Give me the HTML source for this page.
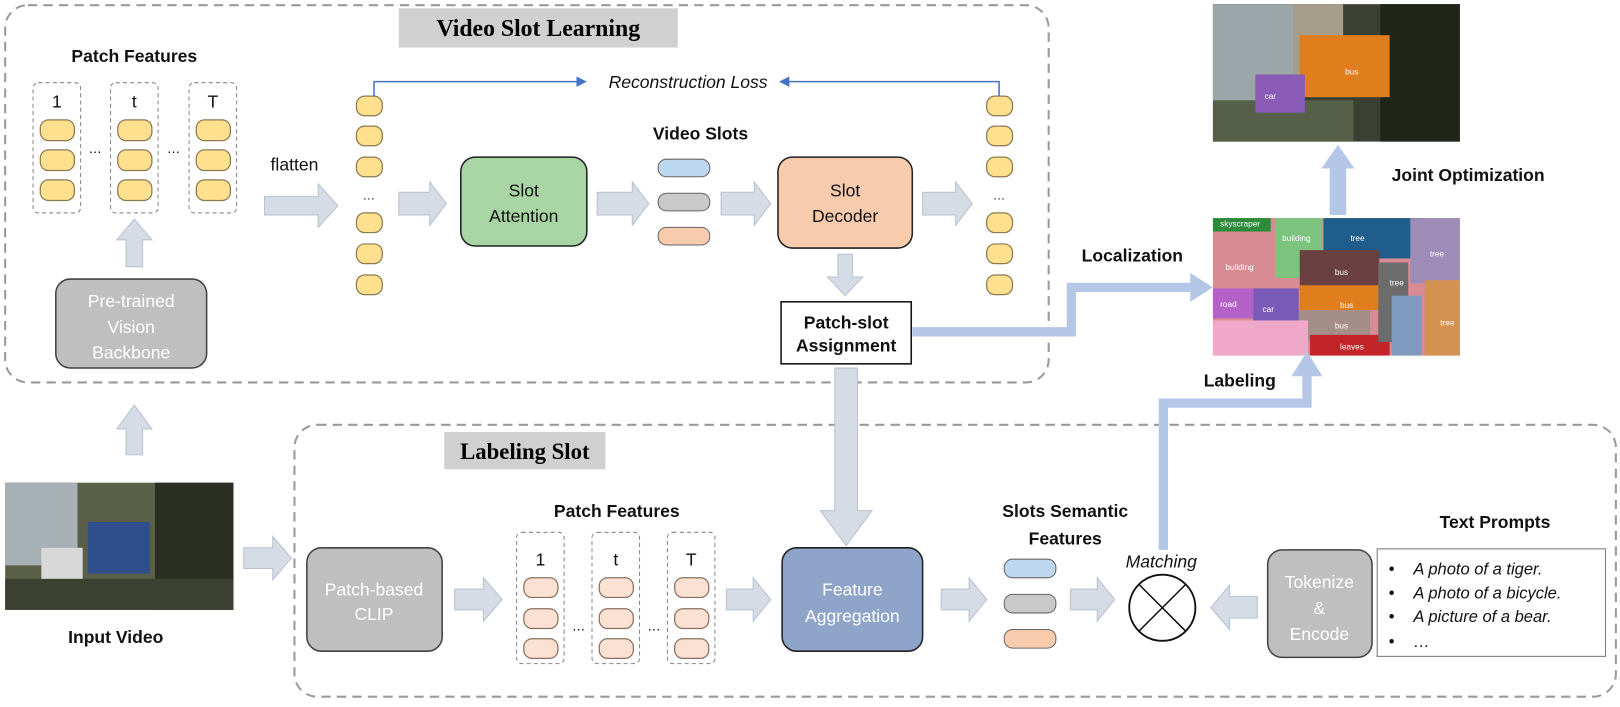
<!DOCTYPE html>
<html><head><meta charset="utf-8"><style>
body{margin:0;background:#fff}
svg{display:block;font-family:"Liberation Sans",sans-serif}
.ga{fill:#d6dce5;stroke:#b7c2d2;stroke-width:1}
.y{fill:#ffe08f;stroke:#8a7a50;stroke-width:1.2}
.p{fill:#fbe1d2;stroke:#8a7060;stroke-width:1.2}
.col{fill:none;stroke:#888;stroke-dasharray:4 3;stroke-width:1}
.t{font-size:17px;fill:#111}
.b{font-weight:bold}
.w{fill:#fff}
</style></head><body>
<svg width="1620" height="707" viewBox="0 0 1568 684" preserveAspectRatio="none">
<rect x="5" y="5" width="1010" height="365" rx="22" fill="none" stroke="#9a9a9a" stroke-width="2" stroke-dasharray="9 6"/>
<rect x="285" y="411" width="1279" height="263" rx="22" fill="none" stroke="#9a9a9a" stroke-width="2" stroke-dasharray="9 6"/>
<rect x="386" y="8" width="270" height="38" fill="#d0d0d0"/>
<text x="521" y="35" text-anchor="middle" font-family="Liberation Serif,serif" font-weight="bold" font-size="23">Video Slot Learning</text>
<rect x="430" y="418" width="156" height="36" fill="#d0d0d0"/>
<text x="508" y="444" text-anchor="middle" font-family="Liberation Serif,serif" font-weight="bold" font-size="22">Labeling Slot</text>

<text x="130" y="60" text-anchor="middle" class="t b" font-size="16">Patch Features</text>
<g>
<rect class="col" x="32" y="80" width="46" height="126" rx="5"/>
<rect class="col" x="107" y="80" width="46" height="126" rx="5"/>
<rect class="col" x="183" y="80" width="46" height="126" rx="5"/>
<text x="55" y="104" text-anchor="middle" class="t">1</text>
<text x="130" y="104" text-anchor="middle" class="t">t</text>
<text x="206" y="104" text-anchor="middle" class="t">T</text>
<rect class="y" x="39" y="116" width="33" height="20" rx="8"/><rect class="y" x="39" y="145" width="33" height="20" rx="8"/><rect class="y" x="39" y="174" width="33" height="20" rx="8"/>
<rect class="y" x="114" y="116" width="33" height="20" rx="8"/><rect class="y" x="114" y="145" width="33" height="20" rx="8"/><rect class="y" x="114" y="174" width="33" height="20" rx="8"/>
<rect class="y" x="190" y="116" width="33" height="20" rx="8"/><rect class="y" x="190" y="145" width="33" height="20" rx="8"/><rect class="y" x="190" y="174" width="33" height="20" rx="8"/>
<text x="92" y="148" text-anchor="middle" font-size="13">…</text>
<text x="168" y="148" text-anchor="middle" font-size="13">…</text>
</g>
<polygon class="ga" points="122,258 122,232 113,232 130,212 147,232 138,232 138,258"/>
<rect x="54" y="270" width="146" height="86" rx="14" fill="#bfbfbf" stroke="#444" stroke-width="1.5"/>
<text x="127" y="297" text-anchor="middle" class="t w" font-size="18">Pre-trained</text>
<text x="127" y="322" text-anchor="middle" class="t w" font-size="18">Vision</text>
<text x="127" y="347" text-anchor="middle" class="t w" font-size="18">Backbone</text>
<polygon class="ga" points="122,440 122,415 113,415 130,392 147,415 138,415 138,440"/>

<text x="285" y="165" text-anchor="middle" class="t">flatten</text>
<polygon class="ga" points="256,190 308,190 308,178 327,199 308,220 308,208 256,208"/>

<g>
<rect class="y" x="345" y="93" width="25" height="19" rx="8"/><rect class="y" x="345" y="122" width="25" height="19" rx="8"/><rect class="y" x="345" y="152" width="25" height="19" rx="8"/>
<text x="357" y="193" text-anchor="middle" font-size="12">…</text>
<rect class="y" x="345" y="206" width="25" height="19" rx="8"/><rect class="y" x="345" y="236" width="25" height="19" rx="8"/><rect class="y" x="345" y="266" width="25" height="19" rx="8"/>
</g>
<g>
<rect class="y" x="955" y="93" width="25" height="19" rx="8"/><rect class="y" x="955" y="122" width="25" height="19" rx="8"/><rect class="y" x="955" y="152" width="25" height="19" rx="8"/>
<text x="967" y="193" text-anchor="middle" font-size="12">…</text>
<rect class="y" x="955" y="206" width="25" height="19" rx="8"/><rect class="y" x="955" y="236" width="25" height="19" rx="8"/><rect class="y" x="955" y="266" width="25" height="19" rx="8"/>
</g>
<polyline points="362,93 362,79 560,79" fill="none" stroke="#4472c4" stroke-width="1.5"/>
<polygon points="568,79 558,74 558,84" fill="#4472c4"/>
<polyline points="967,93 967,79 762,79" fill="none" stroke="#4472c4" stroke-width="1.5"/>
<polygon points="754,79 764,74 764,84" fill="#4472c4"/>
<text x="666" y="85" text-anchor="middle" class="t" font-style="italic" font-size="16">Reconstruction Loss</text>

<polygon class="ga" points="386,186 416,186 416,176 432,197 416,218 416,208 386,208"/>
<rect x="446" y="152" width="122" height="86" rx="14" fill="#a9d5a5" stroke="#222" stroke-width="1.5"/>
<text x="507" y="190" text-anchor="middle" class="t" font-size="18">Slot</text>
<text x="507" y="215" text-anchor="middle" class="t" font-size="18">Attention</text>
<polygon class="ga" points="578,186 612,186 612,176 628,197 612,218 612,208 578,208"/>
<text x="678" y="135" text-anchor="middle" class="t b" font-size="16">Video Slots</text>
<rect x="637" y="154" width="50" height="17" rx="8" fill="#bdd7ee" stroke="#666"/>
<rect x="637" y="187" width="50" height="17" rx="8" fill="#c9c9c9" stroke="#666"/>
<rect x="637" y="220" width="50" height="17" rx="8" fill="#f8cbad" stroke="#666"/>
<polygon class="ga" points="698,186 730,186 730,176 746,197 730,218 730,208 698,208"/>
<rect x="753" y="152" width="130" height="88" rx="14" fill="#f8cbad" stroke="#222" stroke-width="1.5"/>
<text x="818" y="190" text-anchor="middle" class="t" font-size="18">Slot</text>
<text x="818" y="215" text-anchor="middle" class="t" font-size="18">Decoder</text>
<polygon class="ga" points="893,186 925,186 925,176 941,197 925,218 925,208 893,208"/>
<polygon class="ga" points="811,246 825,246 825,268 835,268 818,286 801,268 811,268"/>
<rect x="756" y="292" width="126" height="60" fill="#fff" stroke="#111" stroke-width="1.5"/>
<text x="819" y="318" text-anchor="middle" class="t b" font-size="15">Patch-slot</text>
<text x="819" y="340" text-anchor="middle" class="t b" font-size="15">Assignment</text>

<polyline points="883,321 1037,321 1037,278 1156,278" fill="none" stroke="#b4c7e7" stroke-width="9"/>
<polygon points="1174,278 1152,264 1152,292" fill="#b4c7e7"/>
<text x="1096" y="253" text-anchor="middle" class="t b" font-size="20">Localization</text>
<polygon class="ga" points="808,356 830,356 830,494 844,494 819,528 794,494 808,494"/>

<g>
<rect x="1174" y="4" width="239" height="133" fill="#3a4032"/>
<rect x="1174" y="4" width="78" height="96" fill="#9aa6a8"/>
<rect x="1252" y="4" width="48" height="78" fill="#a69c8a"/>
<rect x="1336" y="4" width="77" height="133" fill="#1f2518"/>
<rect x="1174" y="97" width="136" height="40" fill="#566048"/>
<rect x="1258" y="34" width="87" height="60" fill="#e07d1c"/>
<rect x="1215" y="72" width="48" height="37" fill="#8a5cb8"/>
<text x="1302" y="72" font-size="8" fill="#fff">bus</text>
<text x="1224" y="96" font-size="8" fill="#fff">car</text>
</g>
<g>
<rect x="1174" y="211" width="239" height="133" fill="#d88b93"/>
<rect x="1174" y="211" width="56" height="13" fill="#2c8a3a"/>
<rect x="1234" y="211" width="46" height="58" fill="#7cc47e"/>
<rect x="1281" y="211" width="97" height="39" fill="#1f5d8c"/>
<rect x="1365" y="211" width="48" height="63" fill="#9d8cb8"/>
<rect x="1258" y="242" width="77" height="39" fill="#6a4040"/>
<rect x="1258" y="276" width="77" height="24" fill="#e07d1c"/>
<rect x="1256" y="300" width="70" height="29" fill="#a58e88"/>
<rect x="1268" y="324" width="77" height="20" fill="#c2242a"/>
<rect x="1334" y="254" width="29" height="77" fill="#6c6c6c"/>
<rect x="1347" y="286" width="29" height="58" fill="#7f9cc0"/>
<rect x="1379" y="271" width="34" height="73" fill="#d39252"/>
<rect x="1174" y="279" width="39" height="29" fill="#b462c8"/>
<rect x="1213" y="279" width="44" height="39" fill="#7a5ab8"/>
<rect x="1174" y="310" width="92" height="34" fill="#f0a8c8"/>
<g font-size="8" fill="#fff"><text x="1181" y="219">skyscraper</text><text x="1241" y="233">building</text><text x="1307" y="233">tree</text><text x="1384" y="248">tree</text><text x="1186" y="261">building</text><text x="1292" y="266">bus</text><text x="1297" y="298">bus</text><text x="1292" y="318">bus</text><text x="1345" y="276">tree</text><text x="1181" y="297">road</text><text x="1222" y="302">car</text><text x="1297" y="338">leaves</text><text x="1394" y="315">tree</text></g>
</g>
<polygon points="1287,208 1287,163 1279,163 1295,140 1311,163 1303,163 1303,208" fill="#b4c7e7"/>
<text x="1421" y="175" text-anchor="middle" class="t b" font-size="20">Joint Optimization</text>

<rect x="5" y="467" width="221" height="123" fill="#5a6048"/>
<rect x="5" y="467" width="70" height="80" fill="#a7b0b4"/>
<rect x="150" y="467" width="76" height="123" fill="#2a2f22"/>
<rect x="85" y="505" width="60" height="50" fill="#2f4f8a"/>
<rect x="40" y="530" width="40" height="35" fill="#d8d8d8"/>
<rect x="5" y="560" width="221" height="30" fill="#3c4030"/>
<text x="112" y="622" text-anchor="middle" class="t b" font-size="18">Input Video</text>
<polygon class="ga" points="236,530 264,530 264,519 282,540 264,561 264,550 236,550"/>

<rect x="297" y="530" width="131" height="100" rx="14" fill="#bfbfbf" stroke="#444" stroke-width="1.5"/>
<text x="362" y="576" text-anchor="middle" class="t w" font-size="17">Patch-based</text>
<text x="362" y="600" text-anchor="middle" class="t w" font-size="17">CLIP</text>
<polygon class="ga" points="440,570 468,570 468,559 486,580 468,601 468,590 440,590"/>

<text x="597" y="500" text-anchor="middle" class="t b" font-size="16">Patch Features</text>
<g>
<rect class="col" x="500" y="515" width="46" height="127" rx="5"/>
<rect class="col" x="573" y="515" width="46" height="127" rx="5"/>
<rect class="col" x="646" y="515" width="46" height="127" rx="5"/>
<text x="523" y="547" text-anchor="middle" class="t">1</text>
<text x="596" y="547" text-anchor="middle" class="t">t</text>
<text x="669" y="547" text-anchor="middle" class="t">T</text>
<rect class="p" x="507" y="559" width="33" height="19" rx="8"/><rect class="p" x="507" y="589" width="33" height="19" rx="8"/><rect class="p" x="507" y="618" width="33" height="19" rx="8"/>
<rect class="p" x="580" y="559" width="33" height="19" rx="8"/><rect class="p" x="580" y="589" width="33" height="19" rx="8"/><rect class="p" x="580" y="618" width="33" height="19" rx="8"/>
<rect class="p" x="653" y="559" width="33" height="19" rx="8"/><rect class="p" x="653" y="589" width="33" height="19" rx="8"/><rect class="p" x="653" y="618" width="33" height="19" rx="8"/>
<text x="560" y="610" text-anchor="middle" font-size="13">…</text>
<text x="633" y="610" text-anchor="middle" font-size="13">…</text>
</g>
<polygon class="ga" points="703,570 729,570 729,559 746,580 729,601 729,590 703,590"/>
<rect x="757" y="530" width="136" height="100" rx="14" fill="#8ea4c8" stroke="#222" stroke-width="1.5"/>
<text x="825" y="576" text-anchor="middle" class="t w" font-size="18">Feature</text>
<text x="825" y="602" text-anchor="middle" class="t w" font-size="18">Aggregation</text>
<polygon class="ga" points="911,570 938,570 938,559 955,580 938,601 938,590 911,590"/>
<text x="1031" y="500" text-anchor="middle" class="t b" font-size="16">Slots Semantic</text>
<text x="1031" y="527" text-anchor="middle" class="t b" font-size="16">Features</text>
<rect x="972" y="541" width="50" height="18" rx="8" fill="#bdd7ee" stroke="#666"/>
<rect x="972" y="575" width="50" height="18" rx="8" fill="#c9c9c9" stroke="#666"/>
<rect x="972" y="609" width="50" height="18" rx="8" fill="#f8cbad" stroke="#666"/>
<polygon class="ga" points="1036,570 1062,570 1062,559 1079,580 1062,601 1062,590 1036,590"/>
<circle cx="1125" cy="588" r="32" fill="#fff" stroke="#111" stroke-width="1.8"/>
<line x1="1102" y1="565" x2="1148" y2="611" stroke="#111" stroke-width="1.5"/>
<line x1="1148" y1="565" x2="1102" y2="611" stroke="#111" stroke-width="1.5"/>
<text x="1124" y="549" text-anchor="middle" class="t" font-style="italic" font-size="18">Matching</text>
<polyline points="1126,532 1126,390 1265,390 1265,362" fill="none" stroke="#b4c7e7" stroke-width="9"/>
<polygon points="1265,340 1250,364 1280,364" fill="#b4c7e7"/>
<text x="1200" y="374" text-anchor="middle" class="t b" font-size="19">Labeling</text>
<polygon class="ga" points="1217,577 1190,577 1190,566 1172,588 1190,609 1190,598 1217,598"/>
<rect x="1227" y="532" width="101" height="104" rx="14" fill="#bfbfbf" stroke="#444" stroke-width="1.5"/>
<text x="1277" y="569" text-anchor="middle" class="t w" font-size="18">Tokenize</text>
<text x="1277" y="594" text-anchor="middle" class="t w" font-size="18">&amp;</text>
<text x="1277" y="619" text-anchor="middle" class="t w" font-size="18">Encode</text>
<text x="1447" y="511" text-anchor="middle" class="t b" font-size="17">Text Prompts</text>
<rect x="1333" y="531" width="221" height="104" fill="#fff" stroke="#777"/>
<g font-size="16" font-style="italic" fill="#111">
<text x="1344" y="556">•</text><text x="1368" y="556">A photo of a tiger.</text>
<text x="1344" y="579">•</text><text x="1368" y="579">A photo of a bicycle.</text>
<text x="1344" y="602">•</text><text x="1368" y="602">A picture of a bear.</text>
<text x="1344" y="626">•</text><text x="1368" y="626">…</text>
</g>
</svg>
</body></html>
